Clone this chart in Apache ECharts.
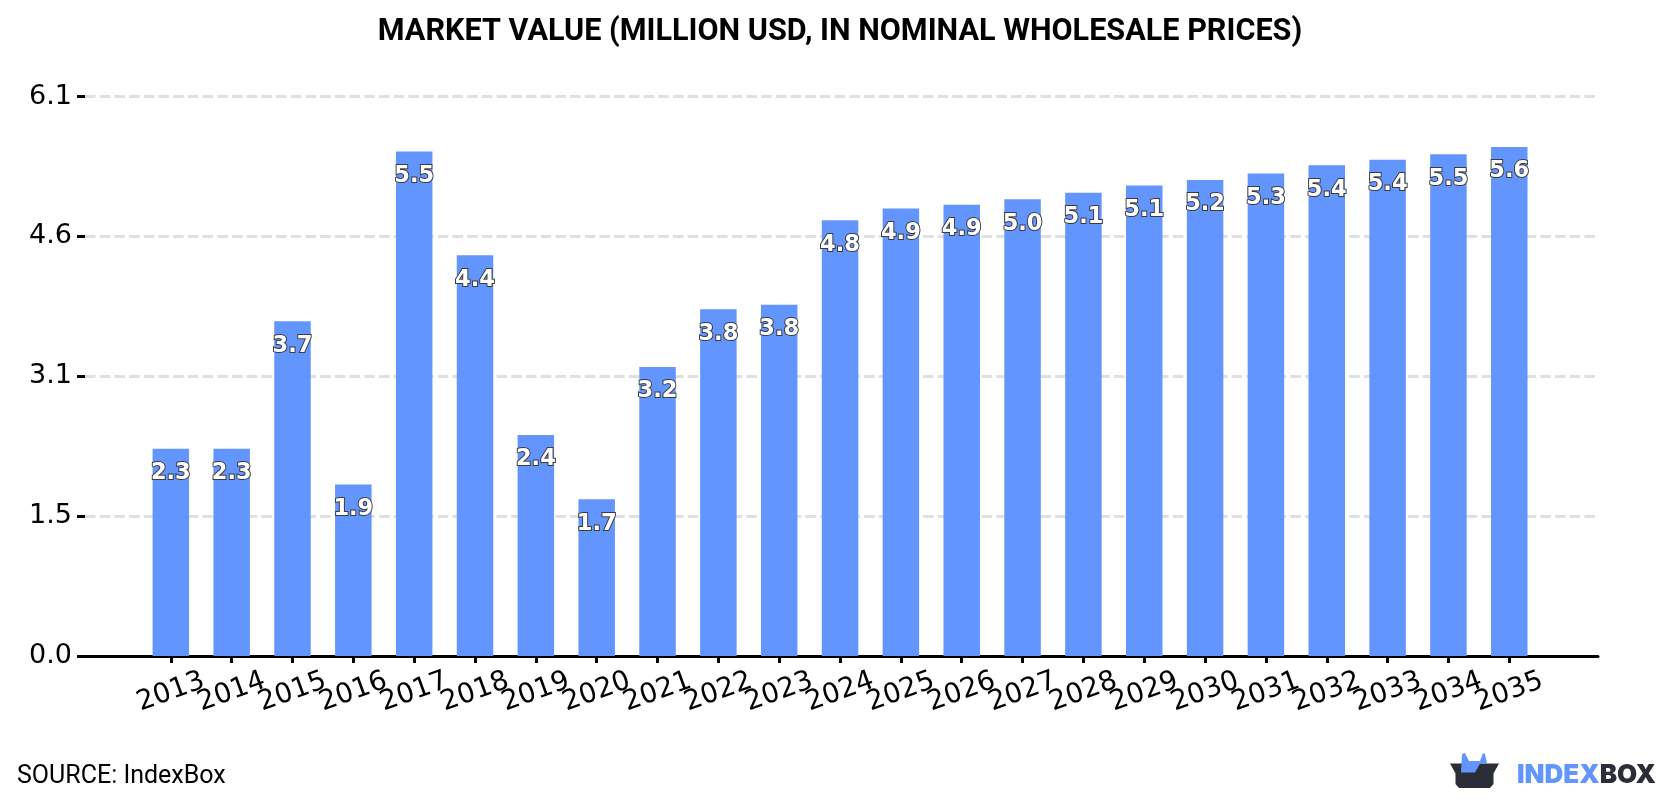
<!DOCTYPE html>
<html>
<head>
<meta charset="utf-8">
<title>Market value</title>
<script src="https://cdn.jsdelivr.net/npm/echarts@6/dist/echarts.min.js"></script>
<style>
html,body{margin:0;padding:0;background:#fff}
#chart{width:1680px;height:800px}
</style>
</head>
<body>
<div id="chart"></div>
<script>
// Yearly market value, million USD
const years = ['2013','2014','2015','2016','2017','2018','2019','2020','2021','2022','2023','2024',
  '2025','2026','2027','2028','2029','2030','2031','2032','2033','2034','2035'];
const marketValue = [2.26,2.26,3.65,1.87,5.50,4.37,2.41,1.71,3.15,3.78,3.83,4.75,
  4.88,4.92,4.98,5.05,5.13,5.19,5.26,5.35,5.41,5.47,5.55];
const valueTickLabels = ['0.0','1.5','3.1','4.6','6.1'];
const valueMax = 6.1;
const valueStep = 1.525;

const BLUE = '#6395ff';
const DARK = '#2b2d38';
const TICK_FONT = '"DejaVu Sans", sans-serif';

const oneDecimal = (v) => (Math.round(v * 10) / 10).toFixed(1);

const chart = echarts.init(document.getElementById('chart'), null, {renderer: 'canvas'});
chart.setOption({
  animation: false,
  backgroundColor: '#fff',
  title: [
    {
      text: 'MARKET VALUE (MILLION USD, IN NOMINAL WHOLESALE PRICES)',
      left: 835, top: 12, textAlign: 'center',
      textStyle: {fontFamily: 'Roboto', fontWeight: 'bold', fontSize: 30.6, color: '#000'}
    },
    {
      text: 'SOURCE: IndexBox',
      left: 12, top: 759,
      textStyle: {fontFamily: 'Roboto', fontWeight: 'normal', fontSize: 25, color: '#000'}
    }
  ],
  // The outer grid carries the value axis, gridlines and baseline; the inner one holds the bars.
  grid: [
    {left: 85, width: 1513, top: 96.5, height: 559.5},
    {left: 140.4, width: 1399.3, top: 96.5, height: 559.5}
  ],
  xAxis: [
    {
      gridIndex: 0, type: 'value', min: 0, max: 1,
      splitLine: {show: false},
      axisTick: {show: false},
      axisLabel: {show: false},
      axisLine: {show: true, onZero: false, lineStyle: {color: '#000', width: 3}}
    },
    {
      gridIndex: 1, type: 'category', data: years,
      axisLine: {show: false},
      axisTick: {show: true, alignWithLabel: true, length: 7, lineStyle: {color: '#000', width: 3}},
      axisLabel: {
        interval: 0, rotate: 20, margin: 36, align: 'center', verticalAlign: 'middle',
        hideOverlap: false, fontFamily: TICK_FONT, fontSize: 27.5, color: '#000'
      }
    }
  ],
  yAxis: [
    {
      gridIndex: 0, type: 'value', min: 0, max: valueMax, interval: valueStep,
      axisLine: {show: false},
      axisTick: {show: true, length: 8, lineStyle: {color: '#000', width: 3}},
      axisLabel: {
        margin: 13, fontFamily: TICK_FONT, fontSize: 27, color: '#000',
        verticalAlign: 'middle', verticalAlignMinLabel: 'middle', verticalAlignMaxLabel: 'middle',
        padding: [4, 0, 0, 0],
        formatter: (value, index) => valueTickLabels[index]
      },
      splitLine: {show: true, lineStyle: {color: '#e0e0e0', width: 3, type: [10.5, 4.2]}}
    },
    {
      gridIndex: 1, type: 'value', min: 0, max: valueMax, interval: valueStep,
      show: false, splitLine: {show: false}
    }
  ],
  graphic: [
    // Brand mark: tray with the blue shape in front of it
    {type: 'polygon', z: 10, shape: {points: [[1450,763.5],[1499,763.5],[1493.5,773.5],[1493.5,784],[1490,788],[1459,788],[1455.5,784],[1455.5,773.5]]}, style: {fill: DARK}},
    {type: 'polygon', z: 11, shape: {points: [[1461,772.5],[1462,754],[1465,753],[1469,761],[1480,761],[1483,753],[1485,754],[1487,763.5],[1480,763.5],[1475,772.5]]}, style: {fill: BLUE}},
    {
      type: 'text', z: 11, left: 1517, top: 762,
      style: {
        rich: {
          a: {fill: BLUE, font: '900 26px Inter'},
          b: {fill: DARK, font: '900 26px Inter'}
        },
        text: '{a|INDEX}{b|BOX}'
      }
    }
  ],
  series: [{
    type: 'bar',
    xAxisIndex: 1,
    yAxisIndex: 1,
    data: marketValue,
    barWidth: 36.5,
    itemStyle: {color: BLUE},
    label: {
      show: true,
      position: 'insideTop',
      distance: 13,
      fontFamily: TICK_FONT,
      fontWeight: 'bold',
      fontSize: 22.5,
      color: '#fff',
      textBorderColor: '#3c3c3c',
      textBorderWidth: 2,
      formatter: (p) => oneDecimal(p.value)
    }
  }]
});
</script>
</body>
</html>
